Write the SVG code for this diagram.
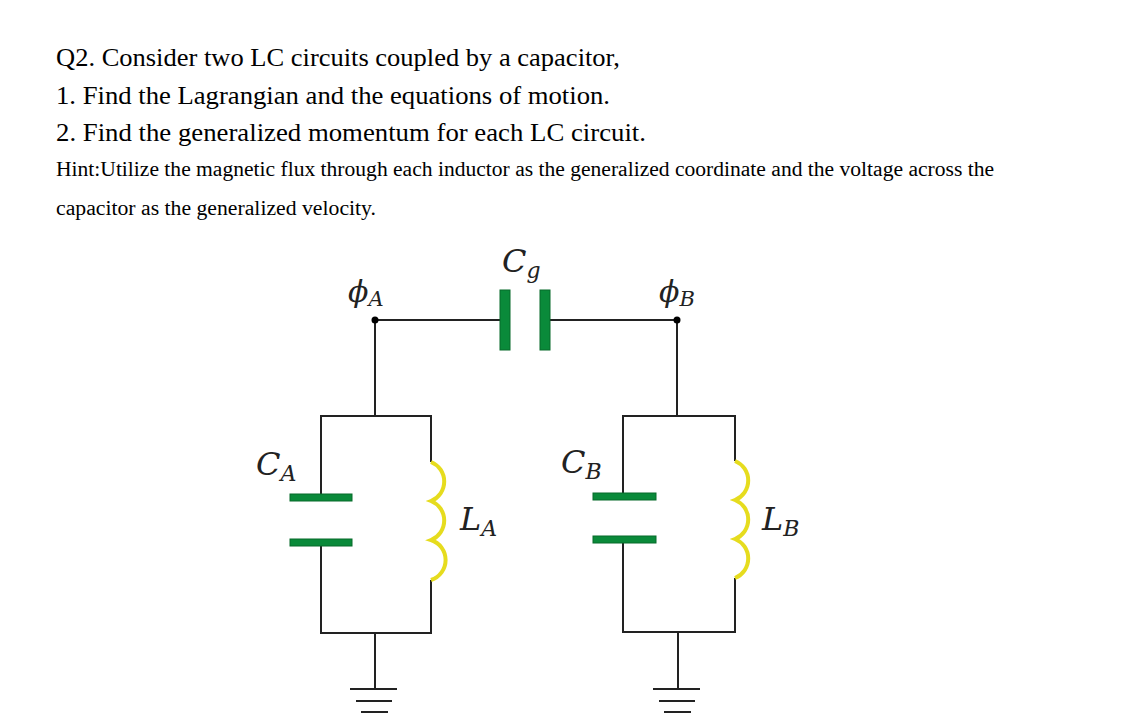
<svg xmlns="http://www.w3.org/2000/svg" width="1125" height="715" viewBox="0 0 1125 715">
<style>
.t{font-family:"Liberation Serif",serif;fill:#000}
.m{font-family:"DejaVu Serif","Liberation Serif",serif;font-style:italic;fill:#222}
.w{stroke:#222;stroke-width:2;fill:none}
.c{fill:#0a8a3a;stroke:#066b2b;stroke-width:1}
.l{stroke:#e6dc1e;stroke-width:4;fill:none}
</style>
<rect width="1125" height="715" fill="#fff"/>
<text class="t" x="56" y="66" font-size="25" textLength="564" lengthAdjust="spacingAndGlyphs">Q2. Consider two LC circuits coupled by a capacitor,</text>
<text class="t" x="56" y="104" font-size="25" textLength="554" lengthAdjust="spacingAndGlyphs">1.  Find the Lagrangian and the equations of motion.</text>
<text class="t" x="56" y="141" font-size="25" textLength="590" lengthAdjust="spacingAndGlyphs">2.  Find the generalized momentum for each LC circuit.</text>
<text class="t" x="56" y="176" font-size="20" textLength="938" lengthAdjust="spacingAndGlyphs">Hint:Utilize the magnetic flux through each inductor as the generalized coordinate and the voltage across the</text>
<text class="t" x="56" y="215" font-size="20" textLength="320" lengthAdjust="spacingAndGlyphs">capacitor as the generalized velocity.</text>
<g id="connectors">
<path class="w" d="M375 320H503M547 320H677"/>
<path class="w" d="M375 320V416M677 320V416"/>
<path class="w" d="M321 498V416H431V462M431 580V633H321V546"/>
<path class="w" d="M375 633V689"/>
<path class="w" d="M623 496V416H735V461M735 578V632H623V543"/>
<path class="w" d="M678 632V689"/>
<path class="w" d="M350 689H397M356 701H392M361 712H388"/>
<path class="w" d="M653 689H700M659 701H695M664 712H691"/>
</g>
<g id="phiA"><circle cx="375" cy="320" r="3.5" fill="#000"/><text class="m" x="348" y="302" font-size="30">ϕ<tspan font-size="21" dy="4">A</tspan></text></g>
<g id="phiB"><circle cx="677" cy="320" r="3.5" fill="#000"/><text class="m" x="659" y="302" font-size="30">ϕ<tspan font-size="21" dy="4">B</tspan></text></g>
<g id="Cg"><rect class="c" x="500" y="290" width="10" height="60"/><rect class="c" x="540" y="290" width="10" height="60"/><text class="m" x="502" y="272" font-size="32">C<tspan font-size="22" dy="6">g</tspan></text></g>
<g id="CA"><rect class="c" x="290" y="494" width="62" height="7"/><rect class="c" x="290" y="539" width="62" height="7"/><text class="m" x="256" y="475" font-size="32">C<tspan font-size="22" dy="6">A</tspan></text></g>
<g id="LA"><path class="l" d="M431 462a21 21 0 0 1 0 39a21 21 0 0 1 0 39a21 21 0 0 1 0 40"/><text class="m" x="460" y="530" font-size="32">L<tspan font-size="22" dy="6">A</tspan></text></g>
<g id="CB"><rect class="c" x="593" y="493" width="63" height="7"/><rect class="c" x="593" y="536" width="63" height="7"/><text class="m" x="561" y="473" font-size="32">C<tspan font-size="22" dy="6">B</tspan></text></g>
<g id="LB"><path class="l" d="M735 461a21 21 0 0 1 0 39a21 21 0 0 1 0 39a21 21 0 0 1 0 39"/><text class="m" x="762" y="530" font-size="32">L<tspan font-size="22" dy="6">B</tspan></text></g>
</svg>
